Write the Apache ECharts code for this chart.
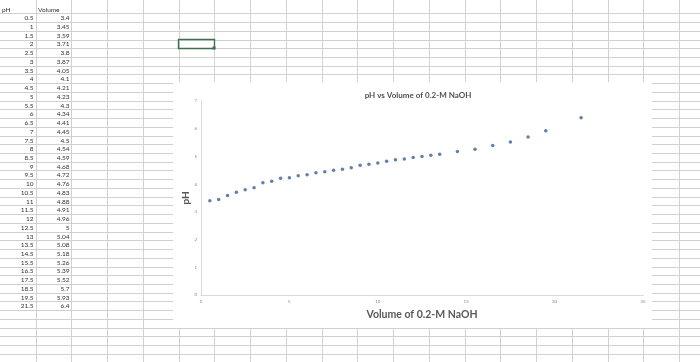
<!DOCTYPE html>
<html><head><meta charset="utf-8">
<script src="https://cdn.jsdelivr.net/npm/echarts@6/dist/echarts.min.js"></script>
<style>html,body{margin:0;padding:0;background:#fff}#c{width:700px;height:362px}</style>
</head><body><div id="c"></div>
<script>
// Column A (labelled "pH" in the sheet) holds the volumes, column B ("Volume") the pH readings
const volumeNaOH = [0.5,1,1.5,2,2.5,3,3.5,4,4.5,5,5.5,6,6.5,7,7.5,8,8.5,9,9.5,10,10.5,11,11.5,12,12.5,13,13.5,14.5,15.5,16.5,17.5,18.5,19.5,21.5];
const pHValues = [3.4,3.45,3.59,3.71,3.8,3.87,4.05,4.1,4.21,4.23,4.3,4.34,4.41,4.45,4.5,4.54,4.59,4.68,4.72,4.76,4.83,4.88,4.91,4.96,5,5.04,5.08,5.18,5.26,5.39,5.52,5.7,5.93,6.4];
const headerA = 'pH';
const headerB = 'Volume';
const chartTitle = 'pH vs Volume of 0.2-M NaOH';
const xTitle = 'Volume of 0.2-M NaOH';
const yTitle = 'pH';

const chart = echarts.init(document.getElementById('c'));
const gridColor = '#d0d0d0';
const colW = 35.75, col0 = 35.7;
const rowH = 8.73, row0 = 4.6;
const g = [];
// horizontal sheet lines
for (let k = 1; k < 45; k++) {
  const y = Math.round(row0 + rowH * k) + 0.5;
  if (y > 362) break;
  g.push({type:'line', z:1, silent:true, shape:{x1:0,y1:y,x2:700,y2:y}, style:{stroke:gridColor,lineWidth:1}});
}
// vertical sheet lines
for (let k = 0; k < 20; k++) {
  const x = Math.round(col0 + colW * k) + 0.5;
  if (x > 700) break;
  g.push({type:'line', z:1, silent:true, shape:{x1:x,y1:0,x2:x,y2:362}, style:{stroke:gridColor,lineWidth:1}});
}
// chart area background
g.push({type:'rect', z:2, silent:true, shape:{x:173,y:82,width:479,height:246}, style:{fill:'#ffffff'}});
// selected cell
g.push({type:'rect', z:3, silent:true, shape:{x:178.5,y:39.5,width:36,height:9}, style:{fill:'none',stroke:'#3f6f4f',lineWidth:1.4}});
g.push({type:'rect', z:3, silent:true, shape:{x:212.5,y:46.5,width:3,height:3}, style:{fill:'#3f6f4f'}});
// table text
const tf = '"Lato", "Open Sans", sans-serif';
g.push({type:'text', z:3, style:{text:headerA, x:2, y:row0+rowH/2+0.5, verticalAlign:'middle', font:'6.5px '+tf, fill:'#333'}});
g.push({type:'text', z:3, style:{text:headerB, x:38, y:row0+rowH/2+0.5, verticalAlign:'middle', font:'6.5px '+tf, fill:'#333'}});
volumeNaOH.forEach((v, i) => {
  const y = row0 + rowH * (i + 1) + rowH / 2 + 0.5;
  g.push({type:'text', z:3, style:{text:String(v), x:33.5, y:y, align:'right', verticalAlign:'middle', font:'6.5px '+tf, fill:'#333'}});
  g.push({type:'text', z:3, style:{text:String(pHValues[i]), x:69.5, y:y, align:'right', verticalAlign:'middle', font:'6.5px '+tf, fill:'#333'}});
});

chart.setOption({
  animation:false,
  backgroundColor:'#ffffff',
  title:{text:chartTitle, left:413, top:86, textAlign:'center',
    textStyle:{fontFamily:tf, fontWeight:'bold', fontSize:8, color:'#505050'}},
  graphic:g,
  grid:{left:201, top:101, width:442, height:194, containLabel:false},
  xAxis:{type:'value', min:0, max:25, interval:5, z:5,
    axisLine:{show:true, lineStyle:{color:'#d9d9d9', width:1}},
    axisTick:{show:false}, splitLine:{show:false},
    axisLabel:{fontSize:4.5, color:'#8a8a8a', margin:4, fontFamily:tf},
    name:xTitle, nameLocation:'middle', nameGap:13,
    nameTextStyle:{fontFamily:tf, fontWeight:'bold', fontSize:10.5, color:'#595959'}},
  yAxis:{type:'value', min:0, max:7, interval:1, z:5,
    axisLine:{show:true, lineStyle:{color:'#d9d9d9', width:1}},
    axisTick:{show:false}, splitLine:{show:false},
    axisLabel:{fontSize:4.5, color:'#8a8a8a', margin:4, fontFamily:tf},
    name:yTitle, nameLocation:'middle', nameGap:10, nameMoveOverlap:false,
    nameTextStyle:{fontFamily:tf, fontWeight:'bold', fontSize:10, color:'#595959'}},
  series:[{type:'scatter', z:6, symbol:'circle', symbolSize:3.5,
    itemStyle:{color:'#3b5e9c'},
    data:volumeNaOH.map((v,i)=>[v,pHValues[i]])}]
});
</script></body></html>
